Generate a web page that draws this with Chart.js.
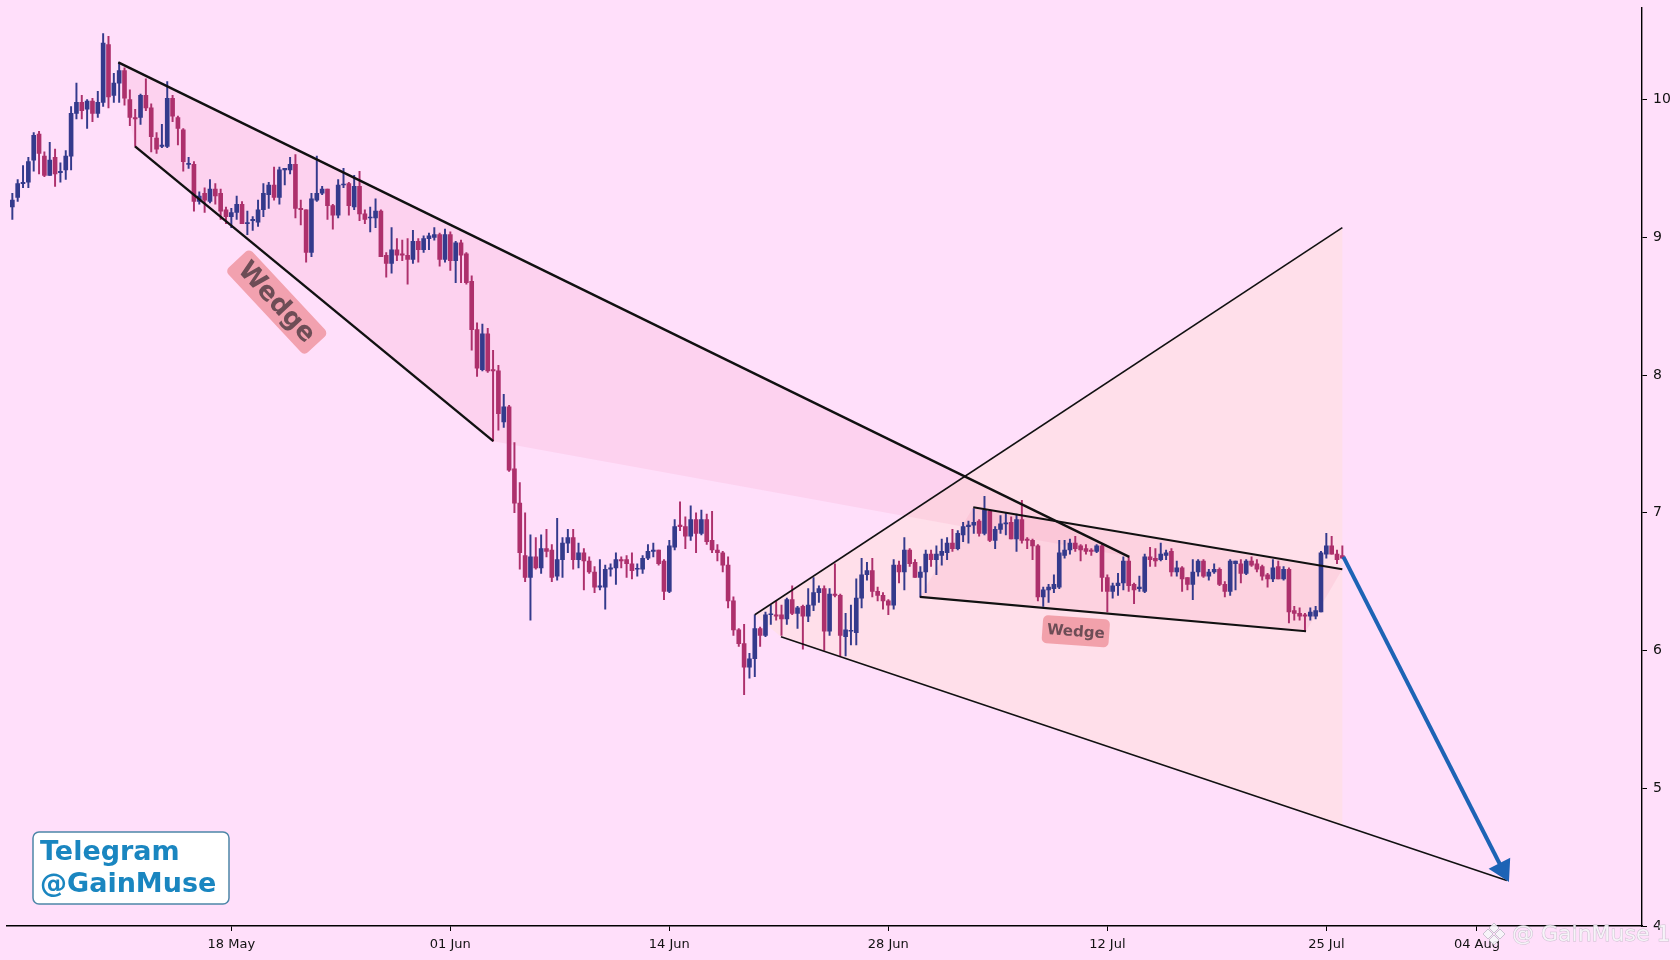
<!DOCTYPE html>
<html>
<head>
<meta charset="utf-8">
<script src="https://cdn.jsdelivr.net/npm/chart.js@4.4.1/dist/chart.umd.min.js"></script>
<style>
  html, body { margin: 0; padding: 0; background: #ffdffa; }
  #grafico { display: block; }
</style>
</head>
<body>
<canvas id="grafico" width="1680" height="960"></canvas>
<script>
// velas (una por periodo)
const aperturas = [
  9.22, 9.29, 9.39, 9.40, 9.56, 9.75, 9.59, 9.45, 9.58, 9.47,
  9.49, 9.59, 9.90, 9.98, 9.93, 9.99, 9.90, 9.98, 10.40, 10.03,
  10.12, 10.21, 10.00, 9.87, 9.87, 10.03, 9.94, 9.72, 9.66, 9.66,
  10.01, 9.87, 9.78, 9.53, 9.53, 9.26, 9.32, 9.26, 9.35, 9.32,
  9.20, 9.15, 9.18, 9.24, 9.10, 9.12, 9.11, 9.20, 9.31, 9.38,
  9.29, 9.49, 9.49, 9.53, 9.21, 9.20, 8.89, 9.27, 9.32, 9.35,
  9.23, 9.16, 9.38, 9.39, 9.22, 9.37, 9.17, 9.14, 9.14, 9.19,
  8.87, 8.81, 8.91, 8.88, 8.87, 8.84, 8.97, 8.91, 8.99, 9.00,
  9.02, 8.84, 9.02, 8.83, 8.96, 8.88, 8.68, 8.33, 8.04, 8.30,
  8.04, 8.03, 7.66, 7.77, 7.32, 7.07, 6.69, 6.53, 6.68, 6.60,
  6.74, 6.73, 6.54, 6.66, 6.78, 6.82, 6.66, 6.71, 6.65, 6.57,
  6.46, 6.46, 6.59, 6.60, 6.66, 6.66, 6.63, 6.59, 6.59, 6.67,
  6.72, 6.73, 6.65, 6.43, 6.75, 6.91, 6.90, 6.83, 6.95, 6.85,
  6.95, 6.80, 6.73, 6.71, 6.62, 6.36, 6.15, 6.05, 5.88, 5.94,
  6.16, 6.11, 6.26, 6.26, 6.26, 6.23, 6.37, 6.27, 6.32, 6.25,
  6.33, 6.42, 6.45, 6.14, 6.41, 6.40, 6.10, 6.14, 6.13, 6.38,
  6.55, 6.58, 6.43, 6.40, 6.36, 6.33, 6.62, 6.57, 6.73, 6.64,
  6.53, 6.57, 6.70, 6.66, 6.69, 6.71, 6.78, 6.74, 6.84, 6.90,
  6.91, 6.94, 6.85, 7.01, 6.80, 6.88, 6.92, 6.93, 6.81, 6.95,
  6.81, 6.80, 6.76, 6.39, 6.44, 6.45, 6.46, 6.69, 6.73, 6.78,
  6.76, 6.74, 6.73, 6.72, 6.76, 6.53, 6.43, 6.47, 6.49, 6.65,
  6.48, 6.45, 6.43, 6.68, 6.67, 6.66, 6.69, 6.72, 6.57, 6.60,
  6.53, 6.48, 6.57, 6.65, 6.54, 6.57, 6.59, 6.48, 6.43, 6.63,
  6.63, 6.56, 6.65, 6.63, 6.61, 6.55, 6.52, 6.61, 6.52, 6.59,
  6.29, 6.27, 6.26, 6.25, 6.25, 6.28, 6.70, 6.76, 6.70, 6.69
];
const maximos = [
  9.32, 9.42, 9.52, 9.58, 9.76, 9.77, 9.62, 9.69, 9.64, 9.54,
  9.63, 9.95, 10.12, 10.03, 10.00, 10.01, 10.06, 10.48, 10.46, 10.19,
  10.27, 10.23, 10.07, 9.93, 10.04, 10.15, 9.97, 9.76, 9.82, 10.13,
  10.03, 9.88, 9.79, 9.58, 9.55, 9.33, 9.36, 9.42, 9.39, 9.35,
  9.22, 9.21, 9.30, 9.26, 9.19, 9.15, 9.27, 9.39, 9.40, 9.51,
  9.51, 9.50, 9.58, 9.60, 9.27, 9.20, 9.32, 9.59, 9.37, 9.35,
  9.24, 9.42, 9.50, 9.40, 9.45, 9.48, 9.20, 9.22, 9.28, 9.20,
  8.89, 9.07, 8.99, 8.98, 8.99, 9.05, 8.99, 9.01, 9.03, 9.07,
  9.03, 9.06, 9.04, 8.97, 8.98, 8.89, 8.72, 8.38, 8.37, 8.34,
  8.18, 8.07, 7.86, 7.78, 7.51, 7.22, 7.00, 6.84, 6.82, 6.84,
  6.88, 6.77, 6.96, 6.82, 6.88, 6.88, 6.78, 6.74, 6.68, 6.61,
  6.66, 6.62, 6.63, 6.71, 6.68, 6.69, 6.71, 6.63, 6.69, 6.77,
  6.78, 6.73, 6.66, 6.80, 6.95, 7.08, 6.97, 7.05, 7.00, 7.02,
  6.99, 7.01, 6.77, 6.72, 6.68, 6.39, 6.16, 6.19, 5.98, 6.26,
  6.17, 6.28, 6.33, 6.36, 6.33, 6.38, 6.47, 6.32, 6.33, 6.45,
  6.53, 6.47, 6.47, 6.45, 6.63, 6.41, 6.27, 6.33, 6.52, 6.67,
  6.64, 6.67, 6.46, 6.42, 6.37, 6.66, 6.65, 6.82, 6.74, 6.66,
  6.61, 6.73, 6.73, 6.76, 6.81, 6.82, 6.88, 6.87, 6.93, 6.94,
  7.03, 6.95, 7.12, 7.02, 6.90, 6.98, 7.00, 6.97, 6.99, 7.09,
  6.82, 6.81, 6.77, 6.46, 6.48, 6.55, 6.80, 6.80, 6.81, 6.83,
  6.77, 6.77, 6.74, 6.77, 6.77, 6.55, 6.49, 6.56, 6.68, 6.68,
  6.49, 6.54, 6.70, 6.75, 6.74, 6.78, 6.73, 6.74, 6.65, 6.61,
  6.53, 6.66, 6.66, 6.66, 6.59, 6.63, 6.60, 6.50, 6.66, 6.65,
  6.66, 6.66, 6.68, 6.66, 6.62, 6.56, 6.66, 6.65, 6.61, 6.60,
  6.32, 6.31, 6.27, 6.31, 6.32, 6.72, 6.85, 6.83, 6.73, 6.76
];
const minimos = [
  9.13, 9.26, 9.36, 9.36, 9.48, 9.46, 9.44, 9.45, 9.37, 9.40,
  9.42, 9.49, 9.86, 9.86, 9.79, 9.84, 9.87, 9.95, 9.94, 9.98,
  9.98, 9.96, 9.81, 9.66, 9.82, 9.92, 9.62, 9.61, 9.65, 9.65,
  9.84, 9.67, 9.48, 9.50, 9.19, 9.24, 9.18, 9.25, 9.24, 9.13,
  9.10, 9.07, 9.13, 9.10, 9.02, 9.05, 9.08, 9.15, 9.21, 9.27,
  9.24, 9.38, 9.46, 9.14, 9.09, 8.82, 8.86, 9.26, 9.31, 9.13,
  9.06, 9.14, 9.36, 9.16, 9.20, 9.12, 9.10, 9.04, 9.07, 8.86,
  8.71, 8.74, 8.83, 8.83, 8.66, 8.81, 8.82, 8.89, 8.91, 8.98,
  8.79, 8.82, 8.76, 8.67, 8.67, 8.66, 8.18, 7.99, 8.03, 8.02,
  7.52, 7.60, 7.62, 7.30, 7.00, 6.59, 6.50, 6.22, 6.59, 6.56,
  6.68, 6.50, 6.51, 6.53, 6.71, 6.59, 6.60, 6.44, 6.56, 6.42,
  6.44, 6.30, 6.54, 6.48, 6.60, 6.53, 6.52, 6.54, 6.56, 6.66,
  6.68, 6.62, 6.37, 6.42, 6.73, 6.87, 6.74, 6.80, 6.71, 6.84,
  6.77, 6.71, 6.65, 6.57, 6.31, 6.11, 6.03, 5.68, 5.80, 5.81,
  6.03, 6.10, 6.19, 6.22, 6.11, 6.19, 6.26, 6.16, 6.01, 6.21,
  6.29, 6.35, 6.00, 6.11, 6.39, 5.96, 5.96, 6.04, 6.04, 6.31,
  6.51, 6.39, 6.36, 6.30, 6.26, 6.30, 6.49, 6.44, 6.61, 6.53,
  6.39, 6.42, 6.61, 6.55, 6.62, 6.66, 6.72, 6.73, 6.79, 6.78,
  6.85, 6.83, 6.84, 6.79, 6.74, 6.85, 6.84, 6.81, 6.72, 6.78,
  6.74, 6.66, 6.36, 6.32, 6.35, 6.42, 6.45, 6.67, 6.70, 6.72,
  6.65, 6.70, 6.69, 6.71, 6.43, 6.28, 6.38, 6.40, 6.44, 6.43,
  6.34, 6.43, 6.42, 6.61, 6.61, 6.65, 6.66, 6.54, 6.54, 6.43,
  6.44, 6.37, 6.54, 6.53, 6.51, 6.56, 6.47, 6.39, 6.40, 6.44,
  6.49, 6.55, 6.61, 6.57, 6.51, 6.46, 6.50, 6.52, 6.51, 6.20,
  6.22, 6.22, 6.14, 6.22, 6.23, 6.28, 6.67, 6.70, 6.63, 6.67
];
const cierres = [
  9.27, 9.39, 9.40, 9.55, 9.74, 9.61, 9.45, 9.56, 9.46, 9.48,
  9.59, 9.90, 9.98, 9.92, 9.99, 9.90, 9.98, 10.41, 10.02, 10.12,
  10.21, 10.01, 9.87, 9.86, 10.03, 9.94, 9.73, 9.64, 9.67, 10.01,
  9.88, 9.79, 9.55, 9.53, 9.26, 9.30, 9.27, 9.35, 9.30, 9.19,
  9.15, 9.18, 9.24, 9.10, 9.10, 9.13, 9.20, 9.32, 9.38, 9.29,
  9.49, 9.50, 9.53, 9.21, 9.20, 8.89, 9.28, 9.32, 9.35, 9.23,
  9.16, 9.38, 9.38, 9.23, 9.37, 9.17, 9.13, 9.14, 9.19, 8.86,
  8.81, 8.91, 8.87, 8.87, 8.84, 8.97, 8.91, 8.99, 9.01, 9.02,
  8.84, 9.02, 8.83, 8.96, 8.87, 8.67, 8.33, 8.05, 8.30, 8.03,
  8.03, 7.72, 7.77, 7.31, 7.07, 6.71, 6.53, 6.68, 6.60, 6.74,
  6.72, 6.53, 6.66, 6.78, 6.82, 6.66, 6.71, 6.65, 6.57, 6.46,
  6.47, 6.59, 6.60, 6.66, 6.65, 6.63, 6.58, 6.59, 6.67, 6.72,
  6.73, 6.63, 6.43, 6.76, 6.90, 6.90, 6.83, 6.95, 6.85, 6.95,
  6.79, 6.73, 6.71, 6.62, 6.36, 6.15, 6.05, 5.88, 5.94, 6.16,
  6.11, 6.26, 6.26, 6.25, 6.23, 6.37, 6.27, 6.31, 6.25, 6.33,
  6.42, 6.45, 6.14, 6.41, 6.40, 6.11, 6.15, 6.14, 6.38, 6.55,
  6.58, 6.43, 6.40, 6.36, 6.33, 6.62, 6.57, 6.73, 6.63, 6.53,
  6.57, 6.70, 6.66, 6.70, 6.72, 6.78, 6.74, 6.85, 6.90, 6.91,
  6.93, 6.85, 7.02, 6.80, 6.88, 6.92, 6.92, 6.81, 6.95, 6.80,
  6.80, 6.76, 6.39, 6.44, 6.46, 6.48, 6.71, 6.73, 6.78, 6.74,
  6.73, 6.72, 6.72, 6.76, 6.53, 6.43, 6.47, 6.49, 6.65, 6.47,
  6.44, 6.46, 6.68, 6.66, 6.65, 6.70, 6.71, 6.57, 6.60, 6.52,
  6.48, 6.57, 6.65, 6.54, 6.57, 6.59, 6.48, 6.43, 6.65, 6.65,
  6.56, 6.65, 6.62, 6.59, 6.54, 6.52, 6.60, 6.52, 6.59, 6.28,
  6.27, 6.25, 6.25, 6.28, 6.29, 6.71, 6.76, 6.70, 6.66, 6.67
];

// eje x en indice de vela, etiquetas de fecha
const posTicksX = [41, 82, 123, 164, 205, 246, 274.2];
const etiquetasX = ['18 May', '01 Jun', '14 Jun', '28 Jun', '12 Jul', '25 Jul', '04 Aug'];
const ticksY = [4, 5, 6, 7, 8, 9, 10];

// lineas de tendencia [indice, precio]
const cunaSuperior = [[19.84, 10.27], [209.1, 6.68]];
const cunaInferior = [[22.97, 9.66], [90.04, 7.52]];
const triSuperior = [[139.0, 6.26], [249.0, 9.07]];
const triInferior = [[143.9, 6.10], [279.8, 4.33]];
const cuna2Superior = [[179.9, 7.04], [249.0, 6.59]];
const cuna2Inferior = [[169.9, 6.39], [242.2, 6.14]];
const flecha = [[249.2, 6.68], [279.0, 4.41]];

// zonas sombreadas
const zonaCuna = [[19.84, 10.27], [209.1, 6.68], [90.04, 7.52], [22.97, 9.66]];
const zonaTriangulo = [[139.0, 6.26], [249.0, 9.07], [249.0, 4.73], [143.9, 6.10]];
const zonaCuna2 = [[179.9, 7.04], [249.0, 6.59], [242.2, 6.14], [169.9, 6.39]];

// etiquetas "Wedge" [indice, precio]
const posWedge1 = [49.5, 8.53];
const posWedge2 = [199.1, 6.14];

const colorSube = '#343a8c';
const colorBaja = '#ad306c';

const indices = cierres.map((c, i) => i);
const colores = cierres.map((c, i) => c >= aperturas[i] ? colorSube : colorBaja);

function linea(puntos, ancho, orden) {
    return {
        type: 'line',
        data: puntos.map(p => ({ x: p[0], y: p[1] })),
        borderColor: '#111111',
        borderWidth: ancho,
        pointRadius: 0,
        fill: false,
        tension: 0,
        order: orden
    };
}

const sinRelleno = () => ({ left: 0, top: 0, right: 0, bottom: 0 });

const fondo = {
    id: 'fondo',
    beforeDraw(chart) {
        const ctx = chart.ctx;
        ctx.save();
        ctx.fillStyle = '#ffdffa';
        ctx.fillRect(0, 0, chart.width, chart.height);
        ctx.restore();
    }
};

const zonas = [
    { puntos: zonaTriangulo, color: 'rgba(255, 224, 218, 0.5)' },
    { puntos: zonaCuna, color: 'rgba(236, 120, 170, 0.13)' },
    { puntos: zonaCuna2, color: 'rgba(236, 120, 160, 0.12)' }
];

const sombreado = {
    id: 'sombreado',
    beforeDatasetsDraw(chart) {
        const { ctx, scales: { x, y } } = chart;
        zonas.forEach(z => {
            ctx.save();
            ctx.beginPath();
            z.puntos.forEach((p, k) => {
                const px = x.getPixelForValue(p[0]);
                const py = y.getPixelForValue(p[1]);
                if (k === 0) ctx.moveTo(px, py); else ctx.lineTo(px, py);
            });
            ctx.closePath();
            ctx.fillStyle = z.color;
            ctx.fill();
            ctx.restore();
        });
    }
};

function cajaTexto(ctx, cx, cy, ancho, alto, angulo, tam) {
    ctx.save();
    ctx.translate(cx, cy);
    ctx.rotate(angulo * Math.PI / 180);
    ctx.fillStyle = 'rgba(238, 140, 150, 0.75)';
    ctx.beginPath();
    ctx.roundRect(-ancho / 2, -alto / 2, ancho, alto, 5);
    ctx.fill();
    ctx.fillStyle = '#6d4d56';
    ctx.font = 'bold ' + tam + 'px "DejaVu Sans"';
    ctx.textAlign = 'center';
    ctx.textBaseline = 'middle';
    ctx.fillText('Wedge', 0, 1);
    ctx.restore();
}

const textos = {
    id: 'textos',
    afterDatasetsDraw(chart) {
        const { ctx, scales: { x, y } } = chart;
        cajaTexto(ctx, x.getPixelForValue(posWedge1[0]), y.getPixelForValue(posWedge1[1]), 116, 33, 47, 26);
        cajaTexto(ctx, x.getPixelForValue(posWedge2[0]), y.getPixelForValue(posWedge2[1]), 67, 28, 4, 15);

        // recuadro telegram
        const bx = 33, by = 832;
        ctx.save();
        ctx.beginPath();
        ctx.roundRect(bx, by, 196, 72, 6);
        ctx.fillStyle = '#ffffff';
        ctx.fill();
        ctx.lineWidth = 1.5;
        ctx.strokeStyle = '#4d86a8';
        ctx.stroke();
        ctx.fillStyle = '#1a86c0';
        ctx.font = 'bold 27px "DejaVu Sans"';
        ctx.textBaseline = 'alphabetic';
        ctx.fillText('Telegram', bx + 7, by + 28);
        ctx.fillText('@GainMuse', bx + 7, by + 60);
        ctx.restore();
    },
    afterDraw(chart) {
        const ctx = chart.ctx;
        ctx.save();
        // marca de agua
        ctx.strokeStyle = 'rgba(170, 170, 180, 0.6)';
        ctx.fillStyle = 'rgba(246, 246, 248, 0.9)';
        ctx.lineWidth = 1;
        [[-6, 0], [6, 0], [0, -6], [0, 6]].forEach(d => {
            ctx.beginPath();
            ctx.moveTo(1494 + d[0], 929 + d[1]);
            ctx.lineTo(1499 + d[0], 934 + d[1]);
            ctx.lineTo(1494 + d[0], 939 + d[1]);
            ctx.lineTo(1489 + d[0], 934 + d[1]);
            ctx.closePath();
            ctx.fill();
            ctx.stroke();
        });
        ctx.font = '22px "DejaVu Sans"';
        ctx.textBaseline = 'middle';
        ctx.strokeText('@ GainMuse 1', 1512, 935);
        ctx.fillText('@ GainMuse 1', 1512, 935);
        ctx.restore();
    }
};

const canvasGrafico = document.getElementById('grafico');

new Chart(canvasGrafico, {
    type: 'bar',
    data: {
        datasets: [
            {
                type: 'bar',
                data: indices.map(i => ({ x: i, y: [minimos[i], maximos[i]] })),
                backgroundColor: colores,
                barThickness: 1.3,
                grouped: false,
                order: 4
            },
            {
                type: 'bar',
                data: indices.map(i => ({ x: i, y: [aperturas[i], cierres[i]] })),
                backgroundColor: colores,
                barThickness: 4,
                minBarLength: 1,
                grouped: false,
                order: 3
            },
            linea(cunaSuperior, 2.4, 2),
            linea(cunaInferior, 2.4, 2),
            linea(triSuperior, 1.6, 2),
            linea(triInferior, 1.6, 2),
            linea(cuna2Superior, 2.2, 2),
            linea(cuna2Inferior, 2.2, 2),
            {
                type: 'line',
                data: flecha.map(p => ({ x: p[0], y: p[1] })),
                borderColor: '#1d63b5',
                borderWidth: 4,
                pointStyle: 'triangle',
                pointRadius: [0, 10],
                pointRotation: [0, 153],
                pointBackgroundColor: '#1d63b5',
                pointBorderColor: '#1d63b5',
                fill: false,
                order: 1
            }
        ]
    },
    options: {
        responsive: false,
        animation: false,
        devicePixelRatio: 1,
        layout: { autoPadding: false, padding: { left: 7, top: 7.3, right: 0, bottom: 0 } },
        plugins: {
            legend: { display: false },
            tooltip: { enabled: false }
        },
        scales: {
            x: {
                type: 'linear',
                min: -1,
                max: 305.1,
                offset: false,
                grid: { display: true, offset: false, drawOnChartArea: false, drawTicks: true, tickLength: 5, color: '#000' },
                border: { display: true, color: '#000', width: 1.4 },
                ticks: {
                    autoSkip: false,
                    maxRotation: 0,
                    padding: 6,
                    color: '#111',
                    font: { family: 'DejaVu Sans', size: 13 },
                    callback: (valor, indice) => etiquetasX[indice]
                },
                afterBuildTicks: (eje) => { eje.ticks = posTicksX.map(v => ({ value: v })); },
                afterFit: (eje) => {
                    eje.height = 34;
                    eje.paddingLeft = 0;
                    eje.paddingRight = 0;
                    eje.getPadding = sinRelleno;
                }
            },
            y: {
                type: 'linear',
                position: 'right',
                min: 4,
                max: 10.67,
                beginAtZero: false,
                grid: { display: true, drawOnChartArea: false, drawTicks: true, tickLength: 5, color: '#000' },
                border: { display: true, color: '#000', width: 1.4 },
                ticks: {
                    padding: 6,
                    color: '#111',
                    font: { family: 'DejaVu Sans', size: 14 }
                },
                afterBuildTicks: (eje) => { eje.ticks = ticksY.map(v => ({ value: v })); },
                afterFit: (eje) => {
                    eje.width = 38;
                    eje.paddingTop = 0;
                    eje.paddingBottom = 0;
                    eje.getPadding = sinRelleno;
                }
            }
        }
    },
    plugins: [fondo, sombreado, textos]
});
</script>
</body>
</html>
